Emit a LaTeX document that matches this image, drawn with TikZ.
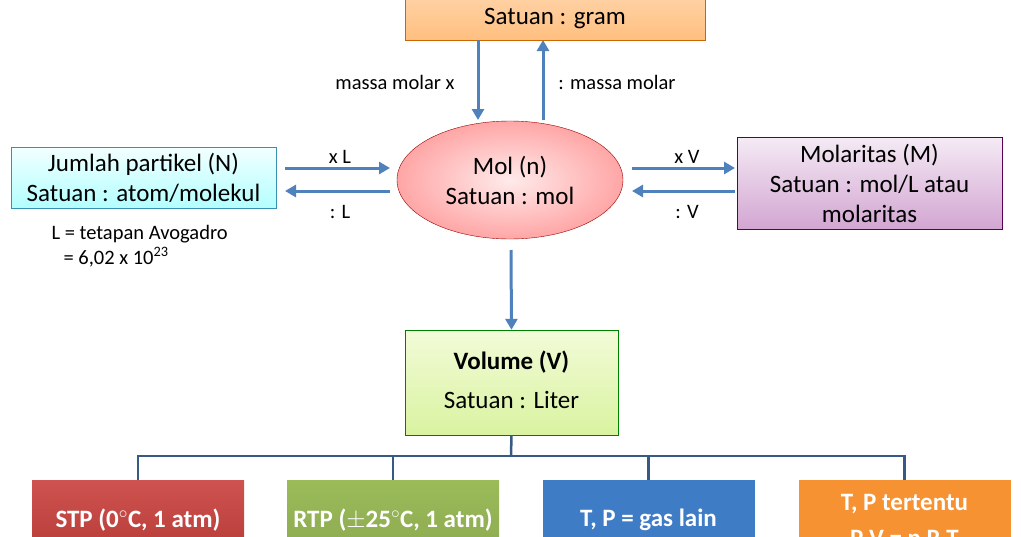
\documentclass[tikz,border=0pt]{standalone}
\usepackage{fontspec}
\setmainfont{Carlito}
\usetikzlibrary{shapes.geometric,arrows.meta}
\definecolor{arr}{HTML}{4F81BD}
\definecolor{bred}{HTML}{C9403C}
\definecolor{bgreen}{HTML}{9BBB59}
\definecolor{bblue}{HTML}{3F7CC6}
\definecolor{borange}{HTML}{F79232}
\definecolor{vtop}{HTML}{F2FBD8}
\definecolor{vbot}{HTML}{D9F3A0}
\tikzset{
  box/.style={draw, minimum height=#1, inner sep=0pt, align=center, font=\fontsize{25}{30}\selectfont},
  arw/.style={arr, line width=3pt, -{Triangle[length=11pt,width=12pt]}},
  lbl/.style={font=\fontsize{20.5}{24}\selectfont},
  bot/.style={draw=none, text=white, minimum width=212pt, minimum height=80pt, anchor=north, align=center, font=\fontsize{25}{36}\selectfont\bfseries},
  tree/.style={draw=arr!70!black, line width=2.5pt}
}
\begin{document}
\begin{tikzpicture}[x=1pt,y=-1pt]
\useasboundingbox (0,0) rectangle (1021,536);
\clip (0,0) rectangle (1021,536);
\node[box=75pt, minimum width=300pt, draw=orange!80!black, top color=orange!25, bottom color=orange!50, anchor=south, text depth=4pt] (massa) at (555,40) {Massa (m)\\Satuan : gram};
\node[ellipse, draw=red!60!black, minimum width=226pt, minimum height=118pt, inner color=red!8, outer color=red!35, align=center, font=\fontsize{25}{30}\selectfont] (mol) at (510,180) {Mol (n)\\Satuan : mol};
\node[box=61pt, minimum width=265pt, draw=cyan!70!black, top color=cyan!5, bottom color=cyan!30] (N) at (143.5,177.5) {Jumlah partikel (N)\\Satuan : atom/molekul};
\node[box=92pt, minimum width=265pt, draw=violet!70!black, top color=violet!8, bottom color=violet!35] (M) at (869.5,183) {Molaritas (M)\\Satuan : mol/L atau\\molaritas};
\node[box=105pt, minimum width=213pt, draw=green!50!black, top color=vtop, bottom color=vbot] (V) at (511.5,382.5) {};
\node[font=\fontsize{25}{30}\selectfont\bfseries] at (511.5,362) {Volume (V)};
\node[font=\fontsize{25}{30}\selectfont] at (511.5,400) {Satuan : Liter};
\coordinate (a1) at (285,168); \coordinate (a2) at (390,168);
\coordinate (b1) at (390,191); \coordinate (b2) at (285,191);
\coordinate (c1) at (632,168); \coordinate (c2) at (735,168);
\coordinate (d1) at (735,191); \coordinate (d2) at (632,191);
\coordinate (e1) at (478,40); \coordinate (e2) at (478,120);
\coordinate (f1) at (543,120); \coordinate (f2) at (543,40);
\coordinate (g1) at (511,250);
\draw[arw] (a1) -- (a2); \draw[arw] (b1) -- (b2);
\draw[arw] (c1) -- (c2); \draw[arw] (d1) -- (d2);
\draw[arw] (e1) -- (e2); \draw[arw] (f1) -- (f2);
\draw[arw] (g1) -- (V.north);
\node[lbl] at (340,157) {x L};
\node[lbl] at (340,212) {: L};
\node[lbl] at (687,157) {x V};
\node[lbl] at (687,212) {: V};
\node[lbl] at (395,82) {massa molar x};
\node[lbl] at (617,82) {: massa molar};
\node[lbl, anchor=west] at (48,234) {L = tetapan Avogadro};
\node[lbl, anchor=west] at (60,257) {= 6,02 x 10\textsuperscript{23}};
\node[bot, top color=bred!90, bottom color=bred!90!black] (s1) at (138,480) {STP (0$^\circ$C, 1 atm)};
\node[bot, top color=bgreen, bottom color=bgreen!90!black] (s2) at (393,480) {RTP ($\pm$25$^\circ$C, 1 atm)};
\node[bot, fill=bblue] (s3) at (648.5,480) {T, P = gas lain};
\node[bot, fill=borange] (s4) at (904.5,480) {T, P tertentu\\P V = n R T};
\coordinate (j) at (511,456);
\draw[tree] (V.south) -- (j);
\draw[tree] (s1.north) |- (j) -| (s4.north);
\draw[tree] (s2.north) -- (s2.north |- j);
\draw[tree] (s3.north) -- (s3.north |- j);
\end{tikzpicture}
\end{document}
